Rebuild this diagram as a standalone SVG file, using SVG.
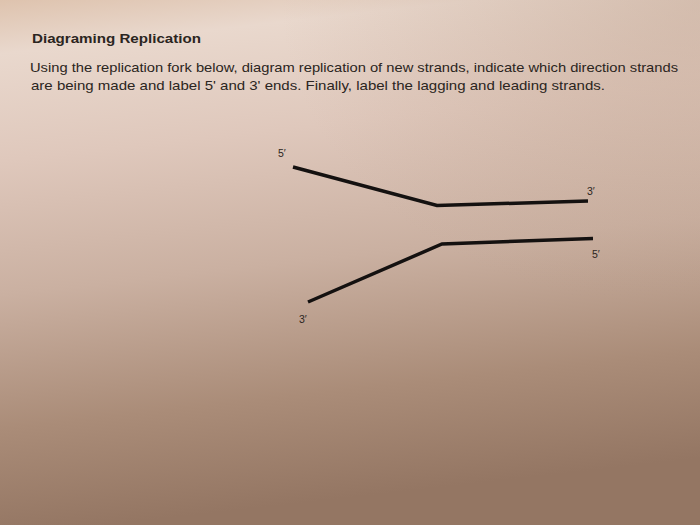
<svg xmlns="http://www.w3.org/2000/svg" width="700" height="525" viewBox="0 0 700 525">
  <defs>
    <linearGradient id="paper" x1="0" y1="0" x2="0.15" y2="1">
      <stop offset="0" stop-color="#dec3ae"/>
      <stop offset="0.1" stop-color="#e9d8cd"/>
      <stop offset="0.3" stop-color="#dfc8bc"/>
      <stop offset="0.55" stop-color="#cab0a1"/>
      <stop offset="0.8" stop-color="#aa8c78"/>
      <stop offset="1" stop-color="#947663"/>
    </linearGradient>
    <radialGradient id="shade" cx="1" cy="0" r="0.6">
      <stop offset="0" stop-color="#b89a85" stop-opacity="0.4"/>
      <stop offset="1" stop-color="#b89a85" stop-opacity="0"/>
    </radialGradient>
    <style>
      .title { font-family: "Liberation Sans", Arial, sans-serif; font-weight: bold; font-size: 13px; fill: #2b2521; }
      .body { font-family: "Liberation Sans", Arial, sans-serif; font-size: 13px; fill: #2b2521; }
      .lbl { font-family: "Liberation Sans", Arial, sans-serif; font-size: 10.5px; fill: #2b2521; }
      .strand { fill: none; stroke: #141110; stroke-width: 3.5; stroke-linejoin: miter; stroke-linecap: butt; }
    </style>
  </defs>
  <rect width="700" height="525" fill="url(#paper)"/>
  <rect width="700" height="525" fill="url(#shade)"/>

  <g id="header">
    <text class="title" x="32" y="43" textLength="169" lengthAdjust="spacingAndGlyphs">Diagraming Replication</text>
    <text class="body" x="30" y="72" textLength="648" lengthAdjust="spacingAndGlyphs">Using the replication fork below, diagram replication of new strands, indicate which direction strands</text>
    <text class="body" x="31" y="90" textLength="574" lengthAdjust="spacingAndGlyphs">are being made and label 5' and 3' ends.  Finally, label the lagging and leading strands.</text>
  </g>

  <g id="connectors">
    <polyline id="top-strand" class="strand" points="293,167 437,205.5 588,201"/>
    <polyline id="bottom-strand" class="strand" points="308,302 442,244 593,238.5"/>
  </g>

  <g id="label-top-left"><text class="lbl" x="278" y="157">5′</text></g>
  <g id="label-top-right"><text class="lbl" x="587" y="195">3′</text></g>
  <g id="label-bottom-right"><text class="lbl" x="592" y="258">5′</text></g>
  <g id="label-bottom-left"><text class="lbl" x="299" y="323">3′</text></g>
</svg>
